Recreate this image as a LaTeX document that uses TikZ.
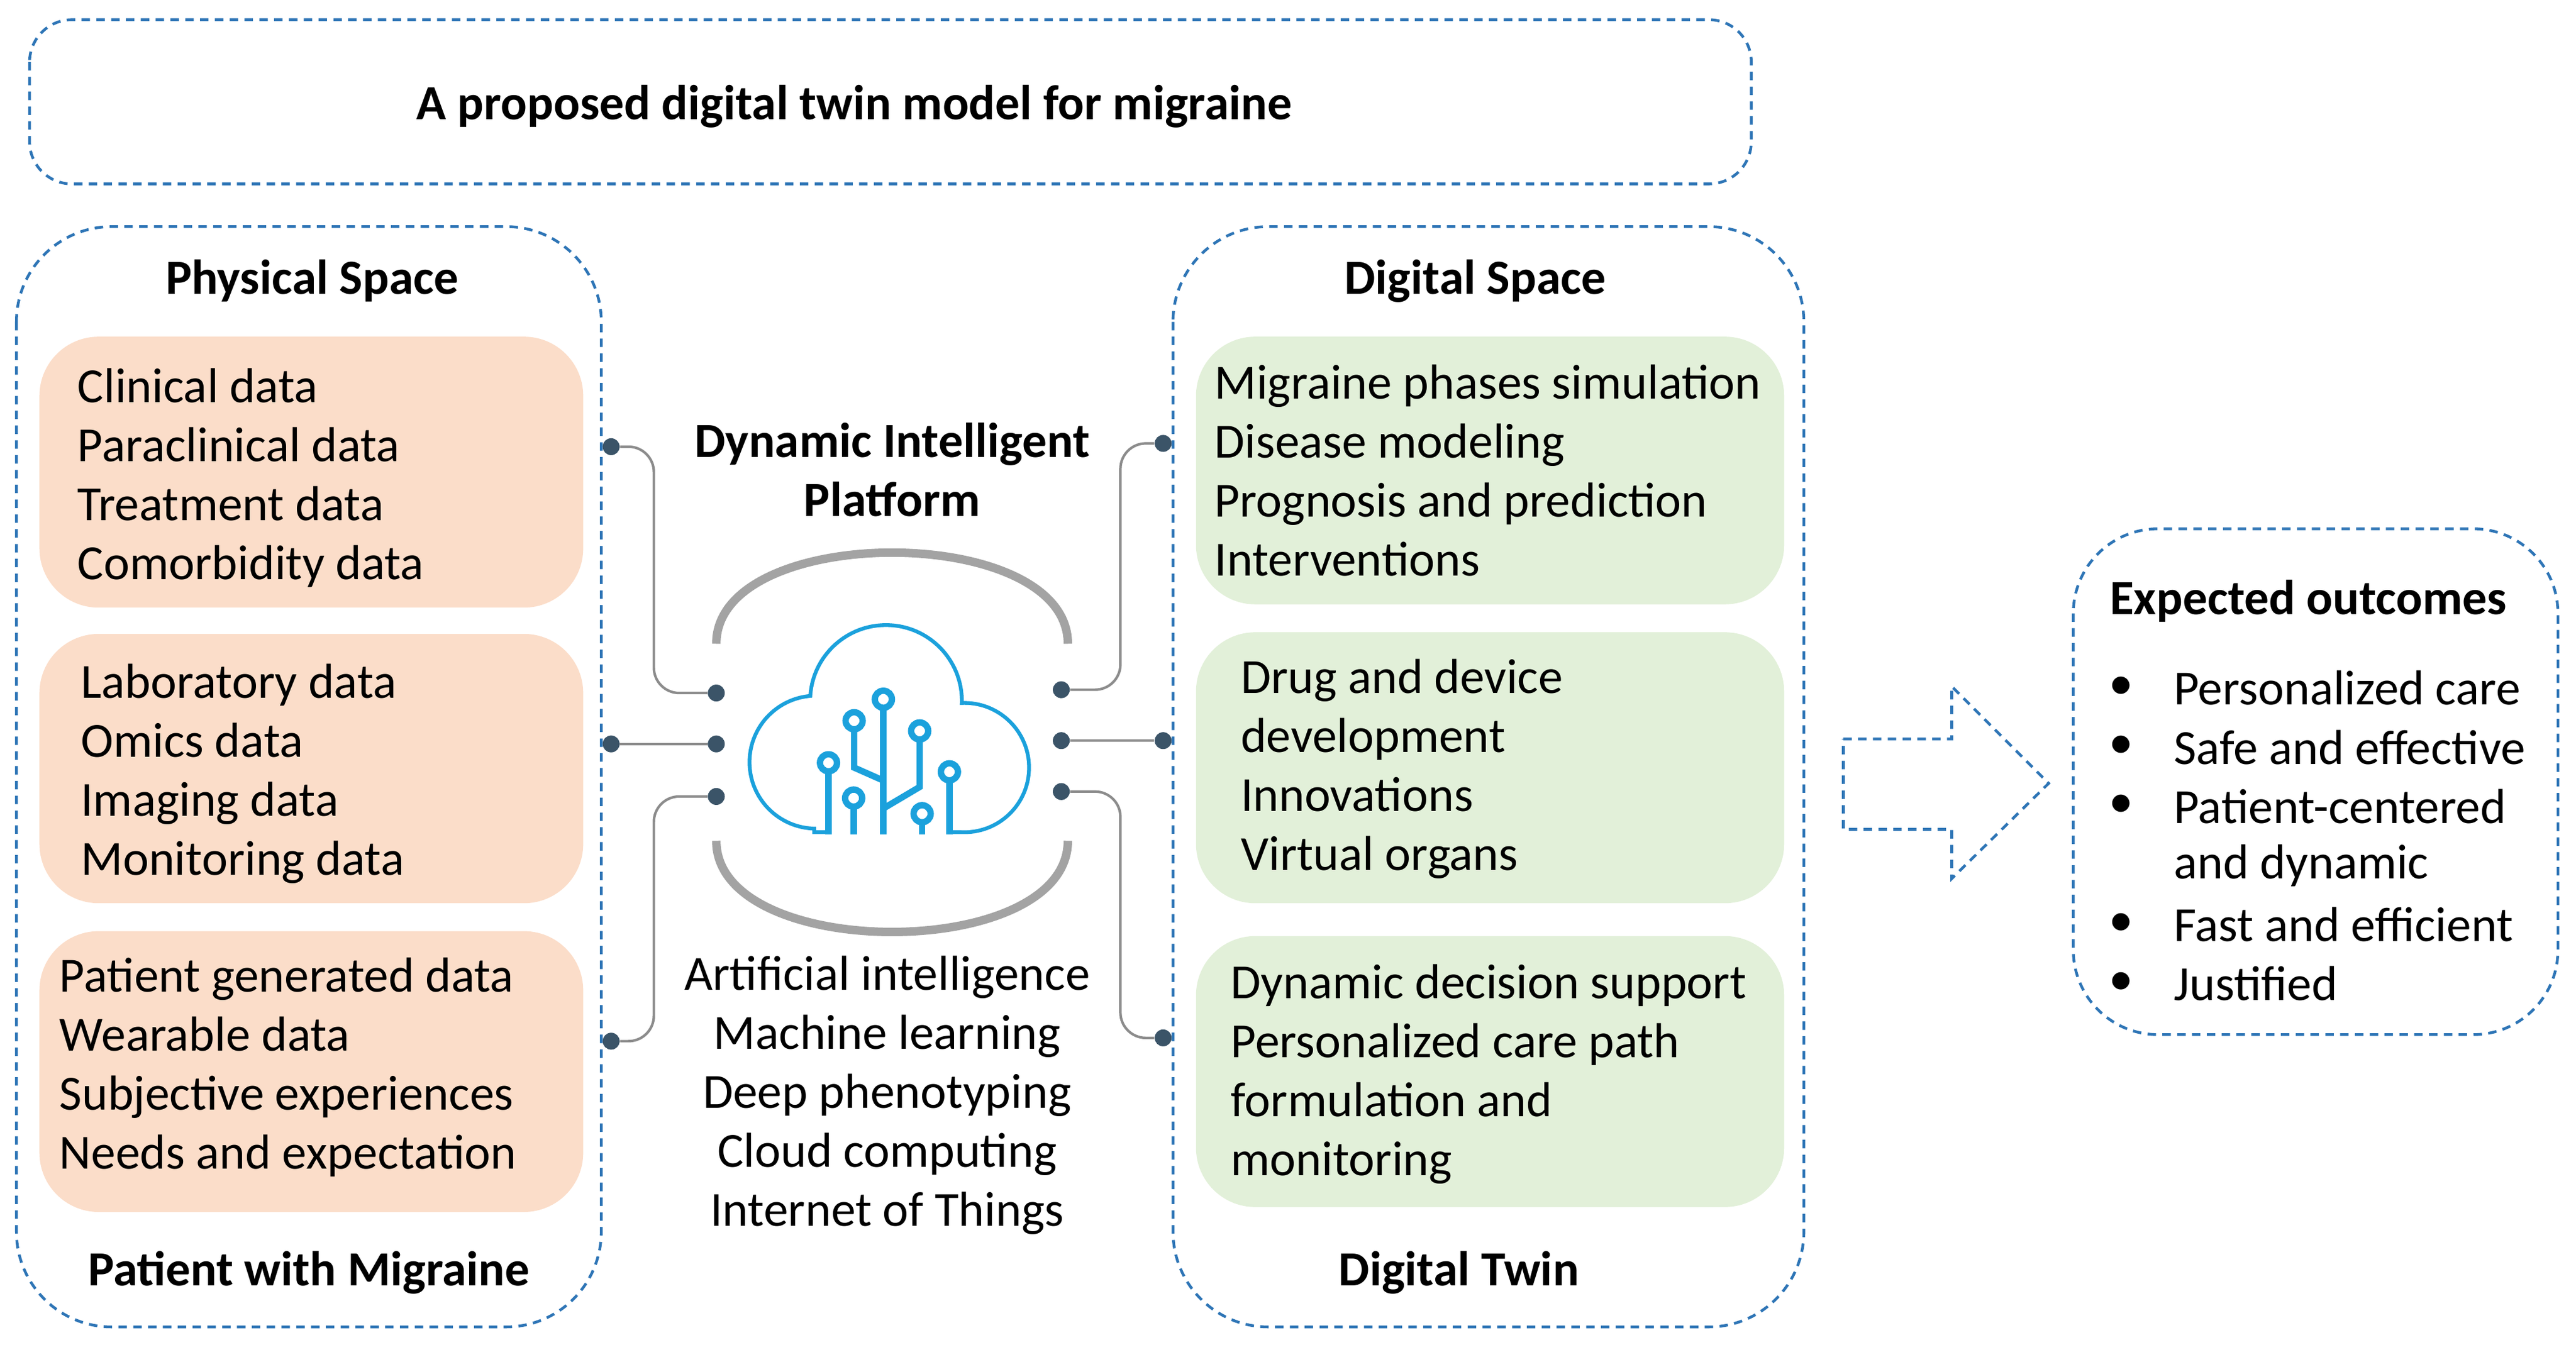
\documentclass[tikz,border=0pt]{standalone}
\usepackage{fontspec}
\setmainfont{Carlito}
\definecolor{frame}{HTML}{2E75B6}
\definecolor{peach}{HTML}{FBDDC9}
\definecolor{mint}{HTML}{E2F0D9}
\definecolor{cloudblue}{HTML}{1BA1DC}
\definecolor{wire}{HTML}{8C8C8C}
\definecolor{dotc}{HTML}{3B5468}
\begin{document}
\begin{tikzpicture}[x=0.02728cm,y=-0.02728cm,
  font=\fontsize{23.2}{27.9}\selectfont,
  group/.style={draw=frame,dash pattern=on 4pt off 3pt,line width=1.3pt,rounded corners=45pt},
  orange/.style={fill=peach,rounded corners=28pt},
  green/.style={fill=mint,rounded corners=28pt},
  lst/.style={align=left,anchor=north west,inner sep=0pt},
  hd/.style={font=\fontsize{23.2}{27.9}\selectfont\bfseries},
  wr/.style={draw=wire,line width=1.2pt,rounded corners=12pt},
  dt/.style={circle,fill=dotc,inner sep=0pt,minimum size=8pt},
  ring/.style={cloudblue,line width=3pt}]
\useasboundingbox (0,0) rectangle (1568,819);
% title
\draw[group,rounded corners=20pt] (18,12) rectangle (1066,112);
\node[hd] (title) at (520,65) {A proposed digital twin model for migraine};
% physical space
\draw[group] (10,138) rectangle (366,808);
\node[hd] (phys) at (190,171) {Physical Space};
\node[hd] (pat) at (188,775) {Patient with Migraine};
\fill[orange] (24,205) rectangle (355,370);
\fill[orange] (24,386) rectangle (355,550);
\fill[orange] (24,567) rectangle (355,738);
\node[lst] (o1) at (47,224) {Clinical data\\Paraclinical data\\Treatment data\\Comorbidity data};
\node[lst] (o2) at (49,404) {Laboratory data\\Omics data\\Imaging data\\Monitoring data};
\node[lst] (o3) at (36,583) {Patient generated data\\Wearable data\\Subjective experiences\\Needs and expectation};
% digital space
\draw[group] (714,138) rectangle (1098,808);
\node[hd] (dig) at (898,171) {Digital Space};
\node[hd] (twin) at (888,775) {Digital Twin};
\fill[green] (728,205) rectangle (1086,368);
\fill[green] (728,385) rectangle (1086,550);
\fill[green] (728,570) rectangle (1086,735);
\node[lst] (g1) at (739,222) {Migraine phases simulation\\Disease modeling\\Prognosis and prediction\\Interventions};
\node[lst] (g2) at (755,401) {Drug and device\\development\\Innovations\\Virtual organs};
\node[lst] (g3) at (749,587) {Dynamic decision support\\Personalized care path\\formulation and\\monitoring};
% outcomes
\draw[group,rounded corners=40pt] (1262,322) rectangle (1557,630);
\node[hd] (exp) at (1405,366) {Expected outcomes};
\foreach \t [count=\i] in {Personalized care,Safe and effective,Patient-centered,and dynamic,Fast and efficient,Justified}{
  \node[anchor=west,inner sep=0pt] (e\i) at (1323,383+36*\i) {\t};}
\foreach \i in {1,2,3,5,6}{\node (b\i) at (1291,383+36*\i) {\textbullet};}
% big arrow
\draw[draw=frame,dash pattern=on 4pt off 3pt,line width=1.3pt]
  (1122,450) -- (1188,450) -- (1188,418) -- (1247,477) -- (1188,535) -- (1188,505) -- (1122,505) -- cycle;
% platform
\node[hd,align=center] (plat) at (543,286) {Dynamic Intelligent\\Platform};
\draw[draw=wire!80,line width=4pt] (436,392) .. controls (436,318) and (650,318) .. (650,392);
\draw[draw=wire!80,line width=4pt] (436,512) .. controls (436,586) and (650,586) .. (650,512);
\node[align=center,inner sep=0pt] (tech) at (540,667) {Artificial intelligence\\Machine learning\\Deep phenotyping\\Cloud computing\\Internet of Things};
% cloud icon
\begin{scope}[shift={(543,508)},x=0.02728cm,y=0.02728cm]
 \draw[cloudblue,line width=3.6pt] (-46.3,43.9) circle (39.3) (-3.7,81.2) circle (45) (44,40.6) circle (38.2)
   (-46.3,2.4) rectangle (44,43);
 \fill[white] (-46.3,43.9) circle (39.3);
 \fill[white] (-3.7,81.2) circle (45);
 \fill[white] (44,40.6) circle (38.2);
 \fill[white] (-46.3,2.4) rectangle (44,43);
 \fill[white] (-38.7,-3) rectangle (34.9,6);
 \begin{scope}[ring]
  \draw (-5.3,0) -- (-5.3,77);
  \draw (-23.1,64) -- (-23.1,40.6) -- (-5.3,32.7);
  \draw (16.8,58) -- (16.8,28.8) -- (-5.3,15.7);
  \draw (-38.7,0) -- (-38.7,38.5);
  \draw (34.9,0) -- (34.9,33);
  \draw (-23.4,0) -- (-23.4,17);
  \draw (18.3,0) -- (18.3,7.5);
  \foreach \p in {(-5.3,82.2),(-23.1,69.1),(16.8,62.9),(-38.7,43.5),(34.9,38),(-23.4,22),(18.3,12.5)}
    \draw \p circle (5.2);
 \end{scope}
\end{scope}
% connectors
\node[dt] (l1) at (372,272) {}; \node[dt] (l2) at (372,453) {}; \node[dt] (l3) at (372,634) {};
\node[dt] (c1) at (436,422) {}; \node[dt] (c2) at (436,453) {}; \node[dt] (c3) at (436,485) {};
\node[dt] (d1) at (646,420) {}; \node[dt] (d2) at (646,451) {}; \node[dt] (d3) at (646,482) {};
\node[dt] (r1) at (708,270) {}; \node[dt] (r2) at (708,451) {}; \node[dt] (r3) at (708,632) {};
\draw[wr] (l1) -| (398,422) -- (c1);
\draw[wr] (l2) -- (c2);
\draw[wr] (l3) -| (398,485) -- (c3);
\draw[wr] (d1) -| (682,270) -- (r1);
\draw[wr] (d2) -- (r2);
\draw[wr] (d3) -| (682,632) -- (r3);
\end{tikzpicture}
\end{document}
